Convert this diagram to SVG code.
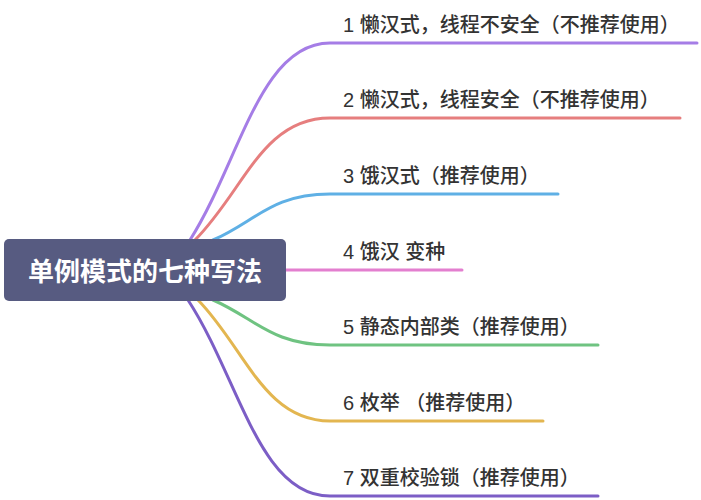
<svg xmlns="http://www.w3.org/2000/svg" width="701" height="500" viewBox="0 0 701 500">
<style>
.c{fill:none;stroke-width:3;stroke-linecap:round}
.t{font-family:"Liberation Sans","Noto Sans CJK SC",sans-serif;font-size:20px;font-weight:500;fill:#333}
.r{font-family:"Liberation Sans","Noto Sans CJK SC",sans-serif;font-size:26px;font-weight:bold;fill:#fff}
</style>
<rect width="701" height="500" fill="#fff"/>
<g id="connectors">
<path class="c" stroke="#a57de6" d="M190,240 C240,161 260,43 330,43 L697,43"/>
<path class="c" stroke="#e67e7e" d="M195,240 C244,191 262,118 330,118 L680,118"/>
<path class="c" stroke="#5fb0e5" d="M213,240 C255,222 271,194 330,194 L558,194"/>
<path class="c" stroke="#e37fcf" d="M280,270 L462,270"/>
<path class="c" stroke="#6fc381" d="M213,300 C255,318 271,345 330,345 L598,345"/>
<path class="c" stroke="#e3b650" d="M198,300 C245,348 264,421 330,421 L543,421"/>
<path class="c" stroke="#7c5ec6" d="M188,300 C239,378 259,496 330,496 L598,496"/>
</g>
<g id="root">
<rect x="4" y="239" width="282" height="62" rx="5" fill="#575b81"/>
<text class="r" x="145" y="281" text-anchor="middle">单例模式的七种写法</text>
</g>
<g id="n1"><text class="t" x="343" y="32">1 懒汉式，线程不安全（不推荐使用）</text></g>
<g id="n2"><text class="t" x="343" y="107">2 懒汉式，线程安全（不推荐使用）</text></g>
<g id="n3"><text class="t" x="343" y="183">3 饿汉式（推荐使用）</text></g>
<g id="n4"><text class="t" x="343" y="259">4 饿汉 变种</text></g>
<g id="n5"><text class="t" x="343" y="334">5 静态内部类（推荐使用）</text></g>
<g id="n6"><text class="t" x="343" y="410">6 枚举 （推荐使用）</text></g>
<g id="n7"><text class="t" x="343" y="485">7 双重校验锁（推荐使用）</text></g>
</svg>
